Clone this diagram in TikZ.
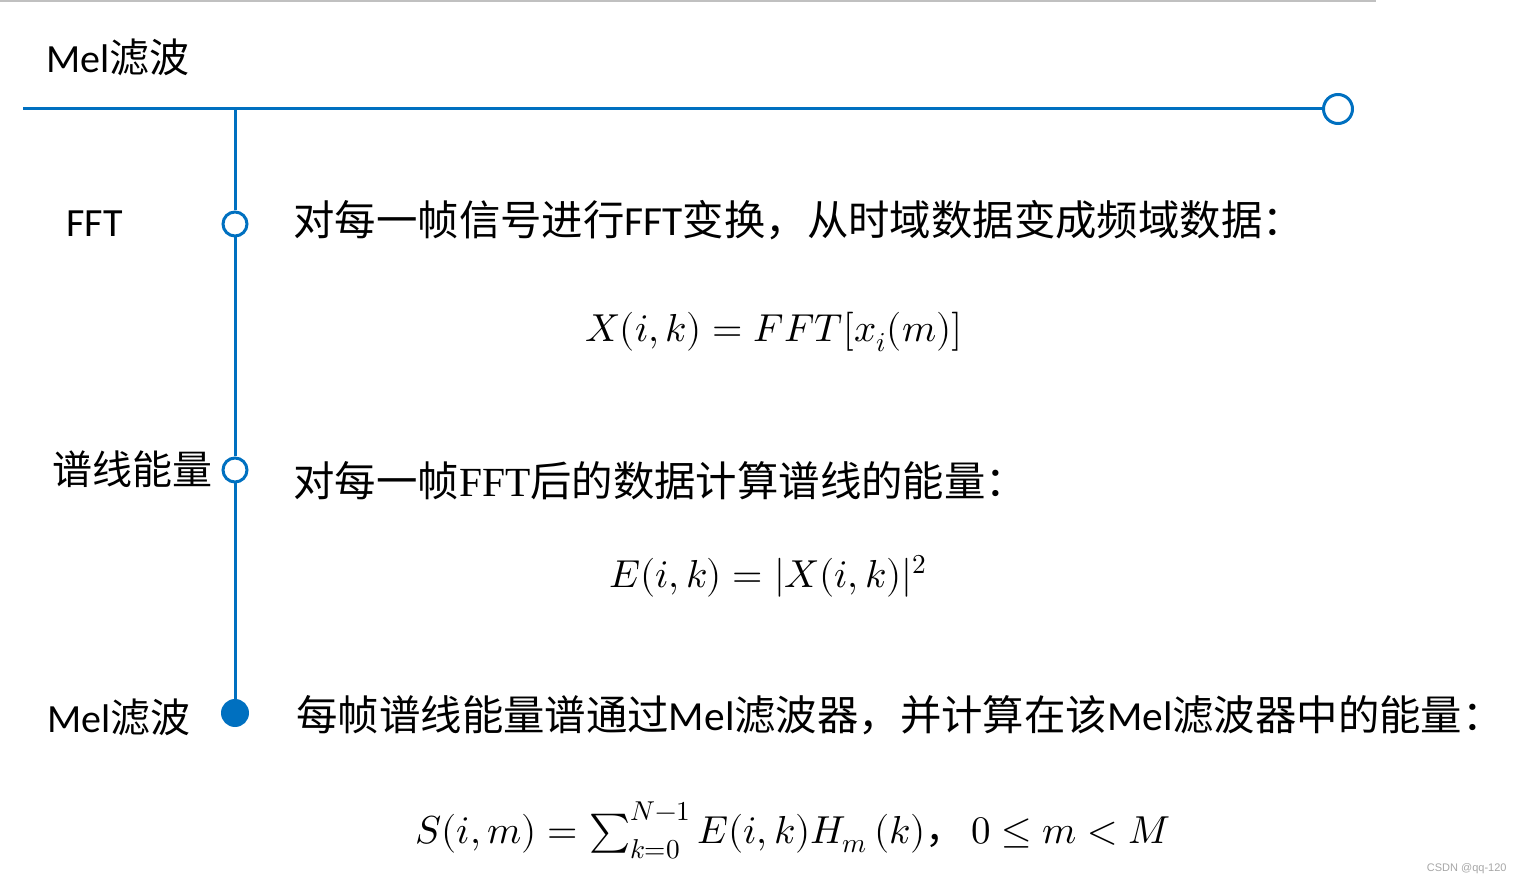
\documentclass[tikz,border=0pt]{standalone}
\usepackage{fontspec}
\usepackage{unicode-math}
\setmathfont{Latin Modern Math}
\newfontfamily\cjk{Noto Sans CJK SC}
\newfontfamily\cali{Carlito}
\newfontfamily\tnr{Liberation Serif}
\newfontfamily\arl{Liberation Sans}
\definecolor{tlblue}{RGB}{0, 112, 192}
\definecolor{rule}{RGB}{192, 192, 192}
\tikzset{
  axis/.style={draw=tlblue, line width=1.5pt},
  hollow/.style={circle, draw=tlblue, fill=white, line width=1.5pt,
    inner sep=0, minimum size=12pt},
  fulldot/.style={circle, fill=tlblue, inner sep=0, minimum size=14pt},
  stage/.style={anchor=base west, inner sep=0,
    font=\fontsize{20}{24}\selectfont},
  desc/.style={anchor=base west, inner sep=0,
    font=\fontsize{20.7}{25}\selectfont\cjk},
  formula/.style={anchor=base, inner sep=0,
    font=\fontsize{19.5}{24}\selectfont}
}

\begin{document}
\begin{tikzpicture}[x=0.5pt, y=-0.5pt]
  \useasboundingbox (0,0) rectangle (1523,882);
  \coordinate (tl) at (0,1);
  \coordinate (tr) at (1376,1);
  \draw[rule, line width=1pt] (tl) -- (tr);

  \node[stage] (title) at (46,73) {{\cali Mel}{\cjk 滤波}};

  \coordinate (left) at (23,109);
  \coordinate (joint) at (235,109);
  \node[hollow, minimum size=14.5pt] (endc) at (1338,109) {};
  \node[hollow] (fftc) at (235,224) {};
  \node[hollow] (specc) at (235,470) {};
  \node[fulldot] (meldot) at (235,713) {};
  \draw[axis] (left) -- (endc);
  \draw[axis] (joint) -- (fftc) -- (specc) -- (meldot);

  \node[stage] (fft) at (66,237) {\cali FFT};
  \node[stage] (spec) at (52,485) {\cjk 谱线能量};
  \node[stage] (mel) at (47,733) {{\cali Mel}{\cjk 滤波}};

  \node[desc] (fftdesc) at (293,236)
    {对每一帧信号进行{\cali FFT}变换，从时域数据变成频域数据：};
  \node[formula] (fftform) at (774,342) {$X(i,k)=FFT[x_i(m)]$};

  \node[desc] (specdesc) at (293,497)
    {对每一帧{\tnr FFT}后的数据计算谱线的能量：};
  \node[formula] (specform) at (768,588) {$E(i,k)=|X(i,k)|^2$};

  \node[desc] (meldesc) at (296,730)
    {每帧谱线能量谱通过{\cali Mel}滤波器，并计算在该{\cali Mel}滤波器中的能量：};
  \node[formula] (melform) at (793,843)
    {$S(i,m)=\sum_{k=0}^{N-1}E(i,k)H_m\,(k)${\cjk ，}\,$0\le m<M$};

  \node[anchor=base east, inner sep=0, text=gray!70,
        font=\fontsize{5.5}{6}\selectfont\arl] (mark) at (1507,871)
    {CSDN @qq-120};
\end{tikzpicture}
\end{document}
